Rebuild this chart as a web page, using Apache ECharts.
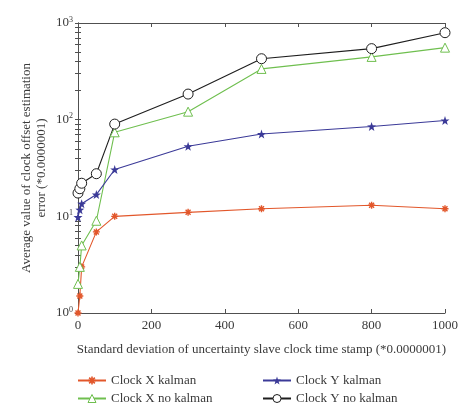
<!DOCTYPE html>
<html>
<head>
<meta charset="utf-8">
<script src="https://cdn.jsdelivr.net/npm/echarts@6/dist/echarts.min.js"></script>
<style>html,body{margin:0;padding:0;background:#fff;}#c{width:474px;height:418px;}</style>
</head>
<body>
<div id="c"></div>
<script>
var xValues = [0, 5, 10, 50, 100, 300, 500, 800, 1000];
var clockXKalman = [1, 1.5, 3, 6.9, 10, 11, 12, 13, 12];
var clockXNoKalman = [2, 3, 5, 9, 74, 121, 335, 446, 556];
var clockYKalman = [9.8, 11.7, 13.5, 16.8, 30.5, 53, 71, 85, 98];
var clockYNoKalman = [17.4, 19.3, 22, 27.6, 90, 184, 427, 543, 794];
var seriesNames = ['Clock X kalman', 'Clock X no kalman', 'Clock Y kalman', 'Clock Y no kalman'];
var xTicks = [0, 200, 400, 600, 800, 1000];
var yMajorTicks = [1, 10, 100, 1000];
var yExponents = ['0', '1', '2', '3'];
var yAllTicks = [1,2,3,4,5,6,7,8,9,10,20,30,40,50,60,70,80,90,100,200,300,400,500,600,700,800,900,1000];

var FONT = 'Liberation Serif';
var TXT = '#3a3a3a';
var AX = '#505050';
var C_ORANGE = '#e2572b', C_GREEN = '#6fbf4f', C_BLUE = '#3b3a98', C_BLACK = '#1e1e1e';

var asteriskPath = 'path://M-0.2,-1 L0.2,-1 L0.2,1 L-0.2,1 Z M-1,-0.2 L1,-0.2 L1,0.2 L-1,0.2 Z M0.566,-0.849 L0.849,-0.566 L-0.566,0.849 L-0.849,0.566 Z M-0.849,-0.566 L-0.566,-0.849 L0.849,0.566 L0.566,0.849 Z';
var starPath = 'path://M0,-1 L0.235,-0.324 L0.951,-0.309 L0.380,0.124 L0.588,0.809 L0,0.4 L-0.588,0.809 L-0.380,0.124 L-0.951,-0.309 L-0.235,-0.324 Z';

function pairs(ys) { return xValues.map(function (x, i) { return [x, ys[i]]; }); }

var chart = echarts.init(document.getElementById('c'), null, {renderer: 'canvas'});
chart.setOption({
  animation: false,
  backgroundColor: '#fff',
  textStyle: {fontFamily: FONT},
  grid: {left: 78, right: 29, top: 23, bottom: 105},
  legend: [{
    data: [seriesNames[0], seriesNames[1]],
    orient: 'vertical', left: 72, top: 369, itemWidth: 28, itemHeight: 10, itemGap: 5,
    itemStyle: {borderWidth: 1},
    textStyle: {fontFamily: FONT, fontSize: 13, color: TXT}
  }, {
    data: [seriesNames[2], seriesNames[3]],
    orient: 'vertical', left: 257, top: 369, itemWidth: 28, itemHeight: 10, itemGap: 5,
    itemStyle: {borderWidth: 1},
    textStyle: {fontFamily: FONT, fontSize: 13, color: TXT}
  }],
  xAxis: [{
    type: 'value', min: 0, max: 1000, interval: 200, position: 'bottom',
    name: 'Standard deviation of uncertainty slave clock time stamp (*0.0000001)',
    nameLocation: 'middle', nameGap: 30, nameMoveOverlap: false,
    nameTextStyle: {fontFamily: FONT, fontSize: 13, color: TXT},
    axisLine: {lineStyle: {color: AX, width: 1}},
    axisTick: {inside: true, length: 4, lineStyle: {color: AX}, customValues: xTicks},
    axisLabel: {fontFamily: FONT, fontSize: 13, color: TXT, margin: 6, customValues: xTicks,
      formatter: function (v) { return String(v); }},
    splitLine: {show: false}
  }, {
    type: 'value', min: 0, max: 1000, interval: 200, position: 'top',
    axisLine: {lineStyle: {color: AX, width: 1}},
    axisTick: {inside: true, length: 4, lineStyle: {color: AX}},
    axisLabel: {show: false},
    splitLine: {show: false}
  }],
  yAxis: [{
    type: 'log', logBase: 10, min: 1, max: 1000, position: 'left',
    name: 'Average value of clock offset estimation\nerror (*0.0000001)',
    nameLocation: 'middle', nameGap: 29, nameMoveOverlap: false,
    nameTextStyle: {fontFamily: FONT, fontSize: 13, color: TXT, lineHeight: 15, align: 'center'},
    axisLine: {lineStyle: {color: AX, width: 1}},
    axisTick: {inside: true, length: 3, lineStyle: {color: AX}, customValues: yAllTicks},
    axisLabel: {
      margin: 5, customValues: yMajorTicks,
      formatter: function (v) {
        var i = yMajorTicks.indexOf(v);
        return '{b|10}{s|' + yExponents[i] + '}';
      },
      rich: {
        b: {fontFamily: FONT, fontSize: 13, color: TXT},
        s: {fontFamily: FONT, fontSize: 8, color: TXT, padding: [0, 0, 7, 0]}
      }
    },
    splitLine: {show: false}
  }, {
    type: 'log', logBase: 10, min: 1, max: 1000, position: 'right',
    axisLine: {lineStyle: {color: AX, width: 1}},
    axisTick: {inside: true, length: 3, lineStyle: {color: AX}, customValues: yAllTicks},
    axisLabel: {show: false},
    splitLine: {show: false}
  }],
  series: [{
    name: seriesNames[0], type: 'line', data: pairs(clockXKalman),
    symbol: asteriskPath, symbolSize: 7,
    lineStyle: {color: C_ORANGE, width: 1.1},
    itemStyle: {color: C_ORANGE}
  }, {
    name: seriesNames[1], type: 'line', data: pairs(clockXNoKalman),
    symbol: 'triangle', symbolSize: 9,
    lineStyle: {color: C_GREEN, width: 1.1},
    itemStyle: {color: '#ffffff', borderColor: C_GREEN, borderWidth: 1}
  }, {
    name: seriesNames[2], type: 'line', data: pairs(clockYKalman),
    symbol: starPath, symbolSize: 9,
    lineStyle: {color: C_BLUE, width: 1.1},
    itemStyle: {color: C_BLUE}
  }, {
    name: seriesNames[3], type: 'line', data: pairs(clockYNoKalman),
    symbol: 'circle', symbolSize: 10,
    lineStyle: {color: C_BLACK, width: 1.1},
    itemStyle: {color: '#ffffff', borderColor: C_BLACK, borderWidth: 1}
  }]
});
</script>
</body>
</html>
